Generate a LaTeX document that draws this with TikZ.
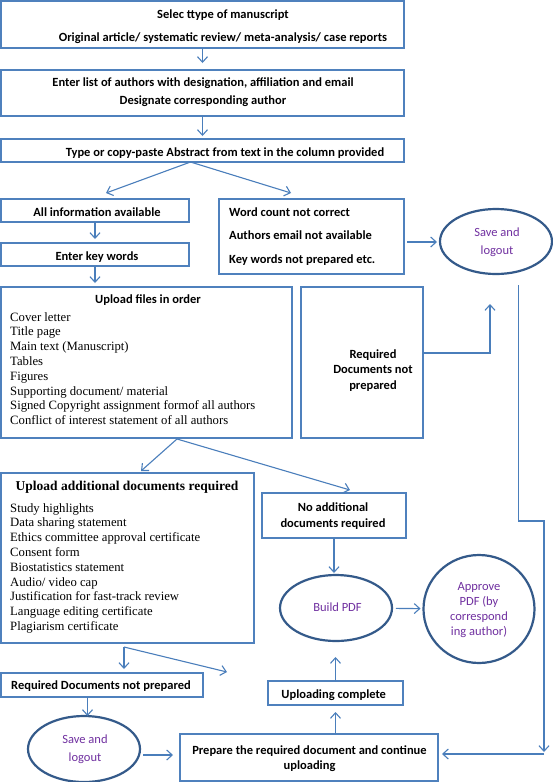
\documentclass[tikz,border=0pt]{standalone}
\usepackage{fontspec}
\setmainfont{Liberation Serif}
\newfontfamily\carl{Carlito}
\usetikzlibrary{arrows.meta,shapes.geometric}
\definecolor{boxblue}{HTML}{4F81BD}
\definecolor{ellblue}{HTML}{345A8A}
\definecolor{arrblue}{HTML}{4A7EBB}
\definecolor{txtpurple}{HTML}{7030A0}
\newcommand\mycenter[1]{\begin{tabular}[t]{@{}c@{}}#1\end{tabular}}
\newcommand\myleft[1]{\begin{tabular}[t]{@{}l@{}}#1\end{tabular}}
\begin{document}
\begin{tikzpicture}[x=1pt,y=-1pt,
  box/.style={draw=boxblue, line width=1.4pt, rectangle, inner sep=0pt, outer sep=0pt},
  ell/.style={draw=ellblue, line width=2.2pt, ellipse, inner sep=0pt, outer sep=0pt},
  tb/.style={inner sep=0pt, anchor=base, font=\carl\bfseries\fontsize{12.5}{#1}\selectfont},
  tb/.default=15,
  pt/.style={inner sep=0pt, anchor=base, text=txtpurple, font=\carl\fontsize{12.5}{#1}\selectfont},
  pt/.default=15,
  sl/.style={inner sep=0pt, anchor=base west, font=\fontsize{12.7}{14.8}\selectfont},
  arr/.style={draw=arrblue, line width=1.1pt, -{Straight Barb[length=5.5pt,width=10pt]}}]
\useasboundingbox (0,0) rectangle (553,782);
\fill[white] (0,0) rectangle (553,782);

% boxes
\node[box, minimum width=403pt, minimum height=47pt] (b1) at (202.5,24.5) {};
\node[box, minimum width=403pt, minimum height=46pt] (b2) at (202.5,93) {};
\node[box, minimum width=403pt, minimum height=23pt] (b3) at (202.5,150.5) {};
\node[box, minimum width=188pt, minimum height=23pt] (ai) at (95,210.5) {};
\node[box, minimum width=188pt, minimum height=23pt] (kw) at (95,254.5) {};
\node[box, minimum width=291pt, minimum height=151pt] (up) at (146.5,362.5) {};
\node[box, minimum width=185pt, minimum height=75pt] (wc) at (311.5,236.5) {};
\node[ell, minimum width=112pt, minimum height=65pt] (s1) at (496,241.5) {};
\node[box, minimum width=122pt, minimum height=151pt] (rd) at (362,362.5) {};
\node[box, minimum width=253pt, minimum height=170pt] (ad) at (127.5,558) {};
\node[box, minimum width=144pt, minimum height=45pt] (na) at (334,515.5) {};
\node[ell, minimum width=112pt, minimum height=66pt] (bp) at (336,608) {};
\node[ell, minimum width=111pt, minimum height=108pt] (ap) at (479,609) {};
\node[box, minimum width=202pt, minimum height=24pt] (rn) at (102,685) {};
\node[ell, minimum width=112pt, minimum height=66pt] (s2) at (84,749) {};
\node[box, minimum width=258pt, minimum height=47pt] (pr) at (309,757.5) {};
\node[box, minimum width=135pt, minimum height=24pt] (uc) at (335.5,693) {};

% texts
\node[tb=23] (b1t) at (223,18) {\mycenter{Selec ttype of manuscript\\Original article/ systematic review/ meta-analysis/ case reports}};
\node[tb=18] (b2t) at (203,86) {\mycenter{Enter list of authors with designation, affiliation and email\\Designate corresponding author}};
\node[tb] (b3t) at (225,156) {Type or copy-paste Abstract from text in the column provided};
\node[tb] (ait) at (97,216) {All information available};
\node[tb] (kwt) at (97,260) {Enter key words};
\node[tb] (upt) at (148,303) {Upload files in order};
\node[sl] (upl) at (10,321) {\myleft{Cover letter\\Title page\\Main text (Manuscript)\\Tables\\Figures\\Supporting document/ material\\Signed Copyright assignment formof all authors\\Conflict of interest statement of all authors}};
\node[tb=23.5, anchor=base west] (wct) at (229,216) {\myleft{Word count not correct\\Authors email not available\\Key words not prepared etc.}};
\node[pt=18] (s1t) at (497,236) {\mycenter{Save and\\logout}};
\node[tb=15.5] (rdt) at (373,358) {\mycenter{Required\\Documents not\\prepared}};
\node[inner sep=0pt, anchor=base, font=\bfseries\fontsize{13.5}{15}\selectfont] (adt) at (127,490.5) {Upload additional documents required};
\node[sl] (adl) at (10,512) {\myleft{Study highlights\\Data sharing statement\\Ethics committee approval certificate\\Consent form\\Biostatistics statement\\Audio/ video cap\\Justification for fast-track review\\Language editing certificate\\Plagiarism certificate}};
\node[tb=16] (nat) at (333,511) {\mycenter{No additional\\documents required}};
\node[pt] (bpt) at (337.5,611) {Build PDF};
\node[pt=15.3] (apt) at (479,590) {\mycenter{Approve\\PDF (by\\correspond\\ing author)}};
\node[tb] (rnt) at (101,689) {Required Documents not prepared};
\node[pt=18] (s2t) at (85,743) {\mycenter{Save and\\logout}};
\node[tb=15] (prt) at (309.5,754) {\mycenter{Prepare the required document and continue\\uploading}};
\node[tb] (uct) at (333.7,698) {Uploading complete};

% connectors
\draw[arr, shorten >=7pt] (b1) -- (b2);
\draw[arr, shorten >=3pt] (b2) -- (b3);
\coordinate (f1) at ([xshift=-12pt]b3.south);
\draw[arr] (f1) -- ([xshift=11pt,yshift=6pt]ai.north);
\draw[arr] (f1) -- ([xshift=-20.5pt,yshift=6pt]wc.north);
\draw[arr, shorten >=4pt] (ai) -- (kw);
\draw[arr, shorten >=4pt] (kw.south) -- (kw.south |- up.north);
\coordinate (wco) at ([yshift=-5.5pt]wc.east);
\draw[arr, shorten <=3pt, shorten >=3pt] (wco) -- (wco -| s1.west);
\draw[arr] ([yshift=9.5pt]rd.east) -| ([xshift=-6pt,yshift=-30pt]s1.south);
\draw[arr] ([xshift=22.5pt,yshift=-11pt]s1.south) -- ++(0,236) -- ++(25.5,0) -- ++(0,231);
\coordinate (rc2) at (544,754);
\draw[arr, shorten >=4pt] (rc2) -- (rc2 -| pr.east);
\coordinate (f2) at ([xshift=30.5pt,yshift=-1pt]up.south);
\draw[arr] (f2) -- ([xshift=13.5pt,yshift=2pt]ad.north);
\draw[arr] (f2) -- ([xshift=16pt,yshift=3pt]na.north);
\draw[arr, shorten >=2pt] (na.south) -- (na.south |- bp.north);
\draw[arr, shorten <=4pt, shorten >=3pt] (bp) -- (ap);
\coordinate (f3) at ([xshift=-3.5pt,yshift=-4pt]ad.south);
\draw[arr, shorten >=4pt] (f3) -- (f3 |- rn.north);
\draw[arr] (f3) -- ([xshift=24pt,yshift=1pt]rn.north east);
\draw[arr] ([xshift=-14.5pt]rn.south) -- ++(0,19);
\coordinate (s2o) at ([yshift=-6pt]s2.east);
\draw[arr, shorten <=3pt, shorten >=7pt] (s2o) -- (s2o -| pr.west);
\draw[arr, shorten >=7pt] (uc.south |- pr.north) -- (uc.south);
\draw[arr, shorten >=16pt] (uc.north) -- (uc.north |- bp.south);
\end{tikzpicture}
\end{document}
